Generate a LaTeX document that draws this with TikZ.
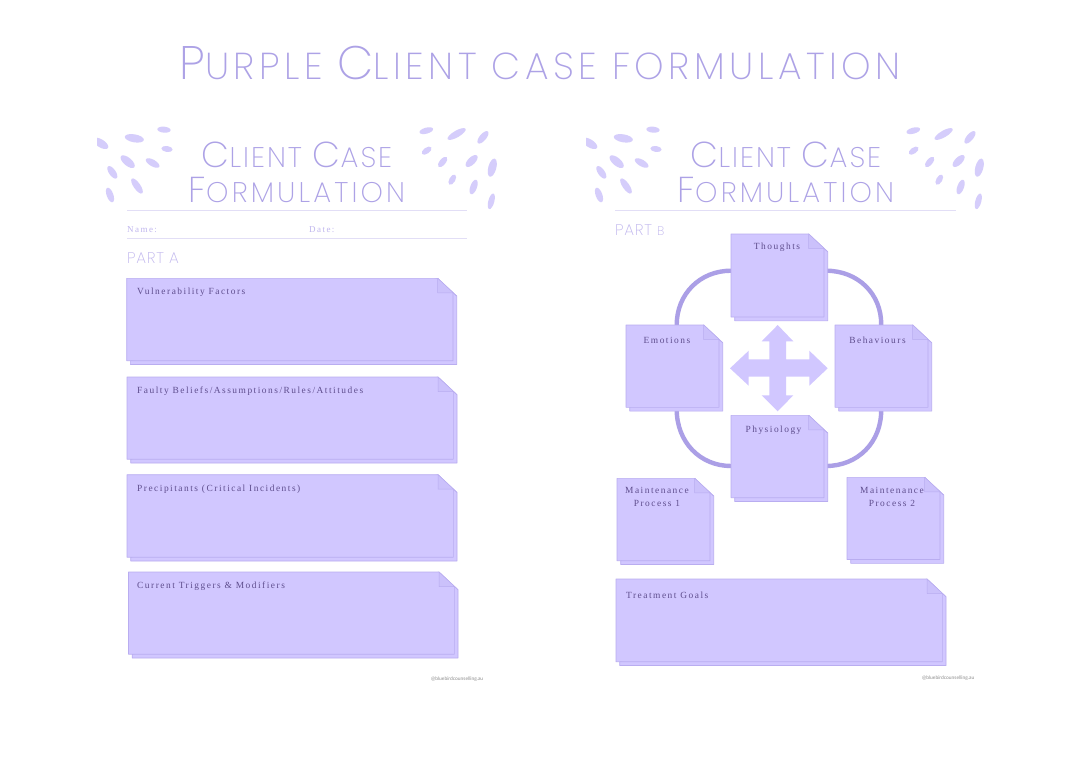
\documentclass[tikz,border=0pt]{standalone}
\usepackage{fontspec}
\setmainfont{Liberation Serif}
\newfontfamily\ttl[LetterSpace=12]{Poppins ExtraLight}
\newfontfamily\sttl[LetterSpace=11]{Poppins ExtraLight}
\newfontfamily\sttlb[LetterSpace=7]{Poppins ExtraLight}
\newfontfamily\pttl[LetterSpace=5]{Poppins ExtraLight}
\newfontfamily\bodyf[LetterSpace=16]{Liberation Serif}
\newfontfamily\footf{Lato}
\definecolor{notefill}{HTML}{D1C7FF}
\definecolor{noteedge}{HTML}{B9ADF0}
\definecolor{foldfill}{HTML}{CBC1FB}
\definecolor{ringc}{HTML}{AB9FE6}
\definecolor{titlec}{HTML}{ADA2E6}
\definecolor{partc}{HTML}{C0B6EE}
\definecolor{labelc}{HTML}{5F4E8E}
\definecolor{rulec}{HTML}{E2DEF6}
\definecolor{blobc}{HTML}{D5CDFB}
\pgfdeclarelayer{back}
\pgfsetlayers{back,main}
\tikzset{
  notebox/.style={inner sep=0pt,outer sep=0pt},
  notepoly/.style={fill=notefill,draw=noteedge,line width=.6pt,line join=round},
  foldpoly/.style={fill=foldfill,draw=noteedge,line width=.5pt,line join=round},
  notelabel/.style={inner sep=0pt,text=labelc,font=\fontsize{9.4}{13}\selectfont\bodyf,align=center},
  ringline/.style={draw=ringc,line width=4.4pt},
  headrule/.style={draw=rulec,line width=.8pt},
  bigtitle/.style={inner sep=0pt,text=titlec,anchor=base},
  subtitle/.style={inner sep=0pt,text=titlec,anchor=base},
  parttitle/.style={inner sep=0pt,text=partc,anchor=base west},
  smallfield/.style={inner sep=0pt,text=partc,anchor=base west,font=\fontsize{9}{11}\selectfont\bodyf},
  foot/.style={inner sep=0pt,text=black!45,anchor=base west,font=\fontsize{4.9}{5}\selectfont\footf},
}
\newcommand\note[5]{%
  \pgfmathsetmacro\nw{#4-#2}\pgfmathsetmacro\nh{#5-#3}%
  \pgfmathsetmacro\ncx{(#2+#4)/2}\pgfmathsetmacro\ncy{(#3+#5)/2}%
  \fill[notepoly] ({#2+3.7},#5) -- ({#2+3.7},{#5+3.8}) -- ({#4+3.7},{#5+3.8}) -- ({#4+3.7},{#3+17.7}) -- ({#4-15.3},#3) -- cycle;
  \fill[notepoly] (#2,#3) -- ({#4-15.3},#3) -- (#4,{#3+14.5}) -- (#4,#5) -- (#2,#5) -- cycle;
  \node[notebox,minimum width=\nw pt,minimum height=\nh pt] (#1) at (\ncx,\ncy) {};
  \fill[foldpoly] ({#4-15.3},#3) -- ({#4-15.3},{#3+14.5}) -- (#4,{#3+14.5}) -- ({#4+3.7},{#3+17.7}) -- cycle;
}
\newcommand\blobs{%
  \foreach \x/\y/\l/\w/\a in {133/70/29/12/10,222/44/20/9/5,231/102/17/9/8,32/85/26/12/32,113/140/26/12/40,188/144/23/10/30,67/172/22/10/55,141/213/27/10/55,60/240/23/10/70}
    \fill[blobc,rotate around={-\a:(\x,\y)}] (\x,\y) ellipse [x radius=\l,y radius=\w];
}
\newcommand\blobsr{%
  \foreach \x/\y/\l/\w/\a in {1009/47/21/9/-15,1100/57/31/10/-30,1179/67/23/10/-50,1010/107/17/9/-35,1058/141/19/9/-50,1145/138/23/11/-45,1207/158/28/12/-75,1087/194/17/9/-60,1151/216/23/10/-70,1204/259/24/9/-75}
    \fill[blobc,rotate around={-\a:(\x,\y)}] (\x,\y) ellipse [x radius=\l,y radius=\w];
}
\newcommand\headtext{{\fontsize{36}{36}\selectfont\sttlb C}{\fontsize{28.4}{28.4}\selectfont\sttlb LIENT}\hspace{11pt}{\fontsize{36}{36}\selectfont\sttlb C}{\fontsize{28.4}{28.4}\selectfont\sttlb ASE}}
\newcommand\headtextb{{\fontsize{36}{36}\selectfont\sttl F}{\fontsize{28.4}{28.4}\selectfont\sttl ORMULATION}}
\begin{document}
\begin{tikzpicture}[x=1pt,y=-1pt]
\useasboundingbox (0,0) rectangle (1080,763);
\begin{pgfonlayer}{back}
\fill[white] (0,0) rectangle (1080,763);
\end{pgfonlayer}
% main title
\node[bigtitle] (maintitle) at (540,79) {{\fontsize{47}{47}\selectfont\ttl P}{\fontsize{37.5}{37.5}\selectfont\ttl URPLE }{\fontsize{47}{47}\selectfont\ttl C}{\fontsize{37.5}{37.5}\selectfont\ttl LIENT CASE FORMULATION}};
% confetti
\begin{scope}
  \clip (97,115) rectangle (500,215);
  \begin{scope}[shift={(90,115)},x=.3333pt,y=-.3333pt]\blobs\blobsr\end{scope}
\end{scope}
\begin{scope}
  \clip (586,115) rectangle (1000,215);
  \begin{scope}[shift={(579,115)},x=.3333pt,y=-.3333pt]\blobs\end{scope}
  \begin{scope}[shift={(577,115)},x=.3333pt,y=-.3333pt]\blobsr\end{scope}
\end{scope}
% left header
\node[subtitle] (lt1) at (297,167) {\headtext};
\node[subtitle] (lt2) at (297,202) {\headtextb};
\coordinate (lr1a) at (127,210.5); \coordinate (lr1b) at (467,210.5);
\coordinate (lr2a) at (127,238); \coordinate (lr2b) at (467,238);
\draw[headrule] (lr1a) -- (lr1b);
\draw[headrule] (lr2a) -- (lr2b);
\node[smallfield] (name) at (127,232.5) {Name:};
\node[smallfield] (date) at (309,232.5) {Date:};
\node[parttitle] (parta) at (127,263) {\fontsize{15.5}{16}\selectfont\pttl PART A};
% right header
\node[subtitle] (rt1) at (786,167) {\headtext};
\node[subtitle] (rt2) at (786,202) {\headtextb};
\coordinate (rr1a) at (615,210.5); \coordinate (rr1b) at (956,210.5);
\draw[headrule] (rr1a) -- (rr1b);
\node[parttitle] (partb) at (615,235) {{\fontsize{15.5}{16}\selectfont\pttl PART }{\fontsize{12.5}{16}\selectfont\pttl B}};
% left notes
\note{vuln}{126.7}{278.3}{453}{360.7}
\note{faulty}{127}{377}{453.3}{459.2}
\note{precip}{127}{474.7}{453.3}{557.2}
\note{trig}{128.5}{572}{454.3}{654.2}
\node[notelabel,anchor=base west] (vulnt) at (137,294.4) {Vulnerability Factors};
\node[notelabel,anchor=base west] (faultyt) at (137,393.4) {Faulty Beliefs/Assumptions/Rules/Attitudes};
\node[notelabel,anchor=base west] (precipt) at (137,491.4) {Precipitants (Critical Incidents)};
\node[notelabel,anchor=base west] (trigt) at (137,588.4) {Current Triggers \& Modifiers};
% right notes
\note{thoughts}{731}{234}{824}{317}
\note{emotions}{626}{325}{719}{407.3}
\note{behaviours}{835}{325}{928}{407.3}
\note{physiology}{731}{415.3}{824}{497.7}
\note{maintone}{617}{478.3}{710}{560.7}
\note{mainttwo}{847}{477.3}{940}{559.5}
\note{goals}{616}{579}{942.3}{661.7}
\node[notelabel,anchor=base] (thoughtst) at (777,249) {Thoughts};
\node[notelabel,anchor=base] (emotionst) at (667,343) {Emotions};
\node[notelabel,anchor=base] (behaviourst) at (877.5,343) {Behaviours};
\node[notelabel,anchor=base] (physiologyt) at (773.5,432) {Physiology};
\node[notelabel,anchor=base,align=center] (maintonet) at (657,506.4) {Maintenance\\Process 1};
\node[notelabel,anchor=base,align=center] (mainttwot) at (892,506.4) {Maintenance\\Process 2};
\node[notelabel,anchor=base west] (goalst) at (626,598) {Treatment Goals};
% ring connectors
\begin{pgfonlayer}{back}
\draw[ringline] ([yshift=4.8pt]thoughts.west) .. controls (700,270.7) and (676.7,294) .. ([xshift=4.2pt]emotions.north);
\draw[ringline] ([yshift=4.8pt,xshift=2pt]thoughts.east) .. controls (858,270.7) and (881.7,294) .. ([xshift=-.3pt]behaviours.north);
\draw[ringline] ([xshift=4.2pt,yshift=-2pt]emotions.south) .. controls (676.7,442) and (700,466) .. ([yshift=-9.5pt]physiology.west);
\draw[ringline] ([xshift=-.3pt,yshift=-2pt]behaviours.south) .. controls (881.7,442) and (858,466) .. ([yshift=-9.5pt,xshift=2pt]physiology.east);
\end{pgfonlayer}
% four-way arrow
\fill[notefill] (777.7,325) -- (793.3,341.3) -- (786,341.3) -- (786,359.3) -- (809.3,359.3) -- (809.3,350.7) -- (827.7,368.3) -- (809.3,385.7) -- (809.3,376.7) -- (786,376.7) -- (786,395.3) -- (793.3,395.3) -- (777.7,411.3) -- (761.7,395.3) -- (769.3,395.3) -- (769.3,376.7) -- (748.7,376.7) -- (748.7,385.7) -- (730,368.3) -- (748.7,350.7) -- (748.7,359.3) -- (769.3,359.3) -- (769.3,341.3) -- (761.7,341.3) -- cycle;
% footers
\node[foot] (footl) at (431,680) {@bluebirdcounselling.au};
\node[foot] (footr) at (922,679.5) {@bluebirdcounselling.au};
\end{tikzpicture}
\end{document}
